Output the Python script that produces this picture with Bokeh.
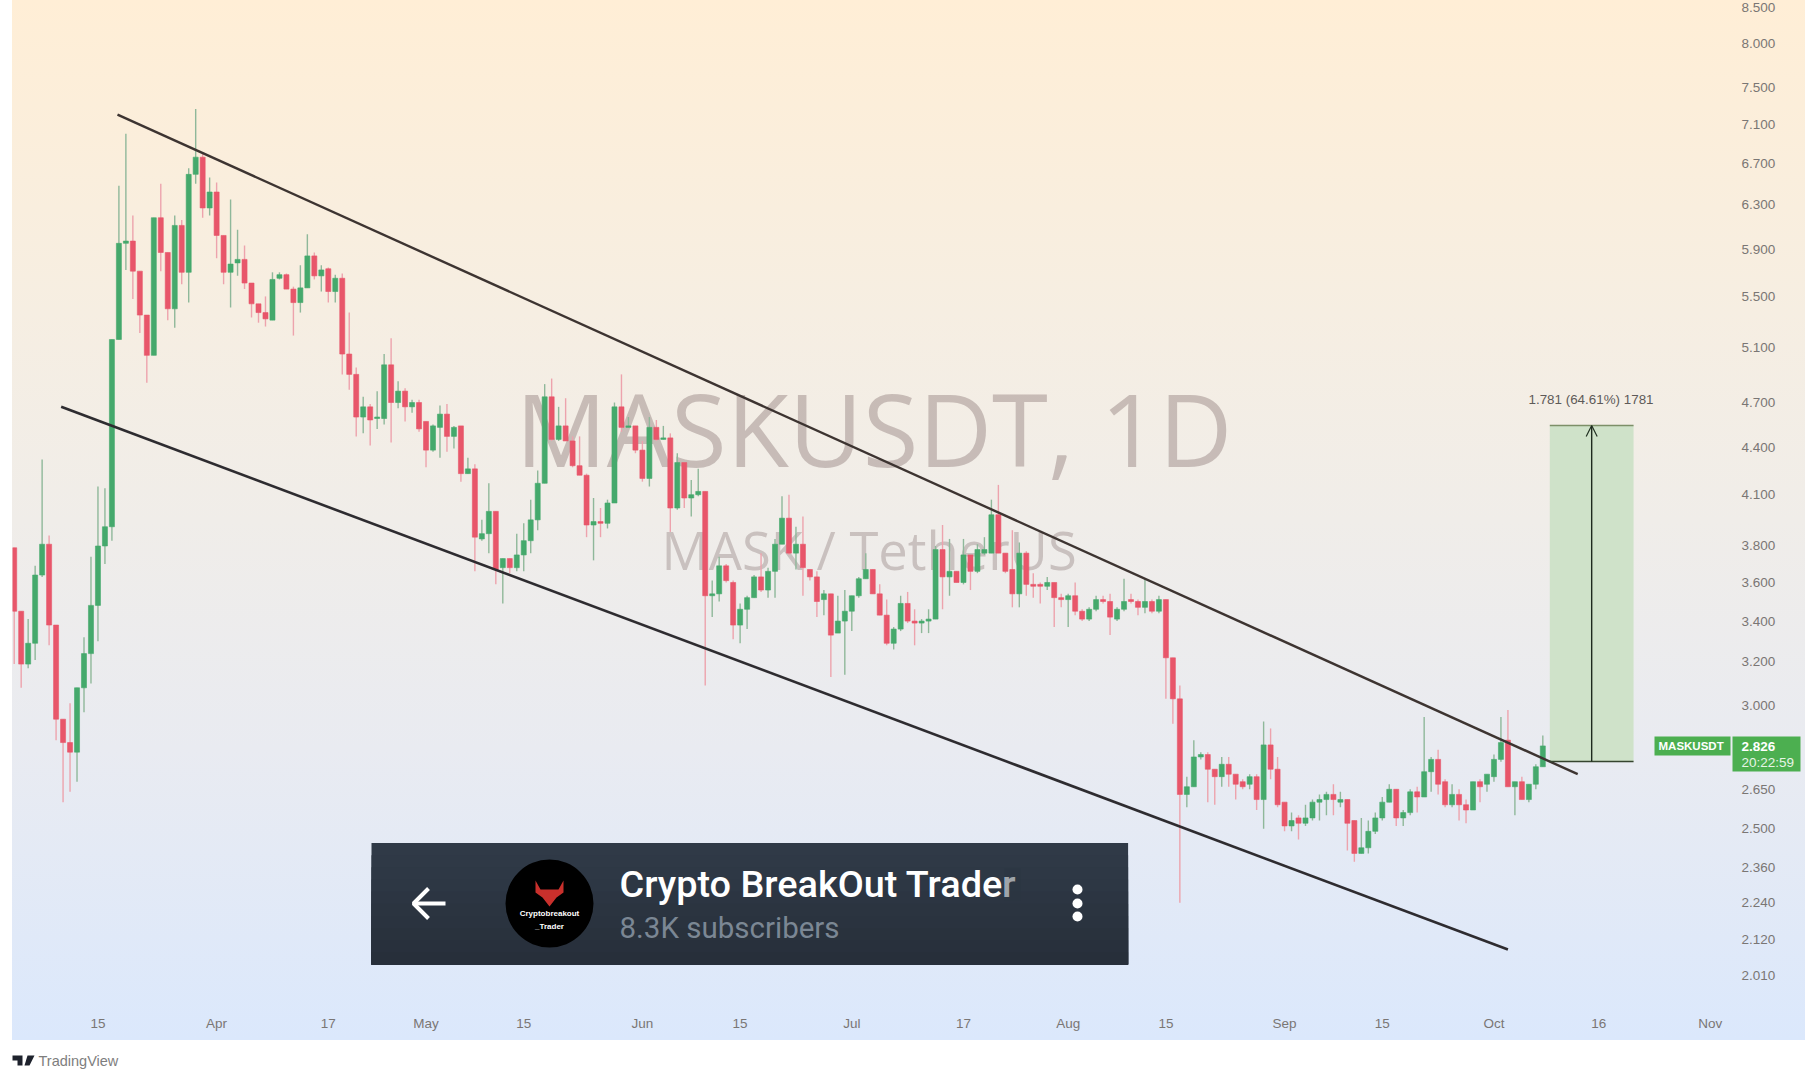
import math
from bokeh.plotting import figure
from bokeh.core.properties import value
from bokeh.models import Range1d, FixedTicker, PrintfTickFormatter, Arrow, OpenHead
from bokeh.embed import file_html
from bokeh.resources import INLINE

opens = [3.79,3.45,3.19,3.29,3.64,3.81,3.38,2.94,2.84,2.80,
3.08,3.24,3.48,3.80,3.91,5.16,5.95,5.97,5.71,5.35,
5.04,6.18,5.87,5.40,6.11,5.70,6.59,6.76,6.27,6.42,
6.02,5.70,5.78,5.81,5.61,5.44,5.37,5.31,5.65,5.68,
5.56,5.45,5.57,5.84,5.67,5.73,5.54,5.65,5.05,4.90,
4.60,4.67,4.59,4.59,4.97,4.70,4.78,4.67,4.70,4.57,
4.38,4.53,4.62,4.47,4.54,4.23,4.26,3.84,3.87,4.00,
3.68,3.73,3.68,3.75,3.83,3.95,4.17,4.74,4.45,4.54,
4.44,4.28,4.22,3.92,3.94,3.93,4.05,4.67,4.53,4.54,
4.38,4.20,4.53,4.45,4.46,4.02,4.30,4.08,4.10,4.12,
3.53,3.54,3.69,3.60,3.38,3.46,3.52,3.63,3.56,3.66,
3.81,3.96,3.76,3.81,3.67,3.63,3.51,3.54,3.34,3.40,
3.45,3.53,3.62,3.67,3.54,3.43,3.29,3.36,3.49,3.40,
3.39,3.40,3.41,3.78,3.63,3.66,3.60,3.75,3.66,3.76,
3.76,3.98,3.76,3.67,3.54,3.76,3.59,3.59,3.58,3.60,
3.52,3.51,3.53,3.45,3.41,3.46,3.51,3.50,3.41,3.46,
3.51,3.50,3.47,3.50,3.45,3.51,3.22,3.03,2.63,2.66,
2.78,2.79,2.73,2.70,2.75,2.71,2.68,2.67,2.70,2.61,
2.83,2.73,2.60,2.51,2.54,2.52,2.54,2.60,2.61,2.63,
2.60,2.61,2.53,2.41,2.43,2.49,2.54,2.60,2.65,2.54,
2.56,2.64,2.62,2.72,2.77,2.68,2.59,2.63,2.59,2.57,
2.68,2.67,2.70,2.77,2.85,2.66,2.68,2.61,2.67,2.74]

highs = [3.79,3.45,3.41,3.69,4.32,3.86,3.38,2.94,3.01,3.08,
3.32,3.74,4.15,4.14,5.16,6.48,7.00,6.20,5.71,5.35,
6.18,6.50,5.87,6.20,6.16,6.65,7.26,6.81,6.56,6.51,
6.02,6.35,6.07,5.93,5.61,5.44,5.50,5.70,5.70,5.69,
5.58,5.76,6.03,5.87,5.76,5.74,5.68,5.69,5.37,4.95,
4.74,4.69,4.78,5.05,5.17,4.85,4.80,4.72,4.72,4.57,
4.55,4.68,4.69,4.54,4.54,4.33,4.29,3.95,4.17,4.00,
3.73,3.73,3.87,3.93,4.07,4.25,4.83,4.87,4.67,4.73,
4.47,4.47,4.23,4.08,4.02,4.07,4.70,4.90,4.60,4.54,
4.44,4.60,4.58,4.54,4.49,4.36,4.30,4.19,4.26,4.12,
3.61,3.74,3.70,3.61,3.49,3.53,3.64,3.76,3.68,3.84,
4.09,4.10,3.91,3.97,3.67,3.66,3.56,3.54,3.53,3.56,
3.53,3.63,3.76,3.67,3.59,3.51,3.37,3.53,3.55,3.46,
3.41,3.46,3.80,3.92,3.84,3.66,3.84,3.75,3.81,3.85,
4.07,4.16,3.76,3.89,3.82,3.77,3.65,3.60,3.63,3.60,
3.54,3.54,3.60,3.46,3.47,3.53,3.53,3.54,3.47,3.62,
3.54,3.51,3.62,3.51,3.53,3.51,3.22,3.09,2.70,2.85,
2.80,2.80,2.73,2.78,2.78,2.71,2.69,2.71,2.71,2.93,
2.90,2.78,2.60,2.56,2.55,2.59,2.61,2.63,2.64,2.67,
2.64,2.61,2.53,2.54,2.53,2.56,2.62,2.67,2.65,2.57,
2.65,2.66,2.95,2.78,2.81,2.69,2.67,2.65,2.61,2.68,
2.69,2.71,2.79,2.95,2.98,2.68,2.70,2.67,2.75,2.87]

lows = [3.19,3.08,3.17,3.21,3.63,3.28,2.85,2.60,2.64,2.68,
2.97,3.10,3.30,3.70,3.83,5.16,5.72,5.48,5.21,4.84,
5.04,5.71,5.31,5.25,5.60,5.45,6.50,6.18,6.20,5.82,
5.60,5.41,5.67,5.56,5.33,5.29,5.26,5.31,5.64,5.56,
5.19,5.37,5.57,5.64,5.54,5.45,5.45,4.90,4.79,4.47,
4.49,4.41,4.52,4.55,4.43,4.66,4.57,4.63,4.50,4.27,
4.37,4.33,4.37,4.39,4.18,4.23,3.66,3.83,3.76,3.59,
3.49,3.65,3.66,3.66,3.76,3.89,4.17,4.44,4.44,4.44,
4.27,4.22,3.85,3.72,3.85,3.90,4.05,4.50,4.53,4.36,
4.18,4.15,4.44,4.45,3.88,4.01,4.02,3.97,4.09,3.09,
3.42,3.50,3.60,3.31,3.29,3.36,3.52,3.55,3.52,3.52,
3.81,3.75,3.67,3.53,3.61,3.42,3.43,3.13,3.34,3.14,
3.35,3.52,3.62,3.54,3.43,3.28,3.26,3.35,3.39,3.28,
3.34,3.34,3.41,3.46,3.53,3.60,3.59,3.56,3.65,3.75,
3.76,3.76,3.65,3.47,3.47,3.53,3.52,3.49,3.56,3.37,
3.47,3.37,3.43,3.40,3.40,3.45,3.49,3.33,3.40,3.45,
3.49,3.43,3.44,3.44,3.44,3.03,2.92,2.24,2.58,2.66,
2.77,2.60,2.59,2.66,2.66,2.61,2.65,2.65,2.57,2.50,
2.69,2.58,2.49,2.49,2.46,2.51,2.53,2.53,2.55,2.55,
2.58,2.42,2.38,2.41,2.41,2.48,2.53,2.60,2.51,2.51,
2.55,2.56,2.62,2.64,2.63,2.58,2.58,2.53,2.52,2.57,
2.60,2.64,2.68,2.76,2.66,2.55,2.61,2.60,2.65,2.74]

closes = [3.45,3.19,3.29,3.64,3.81,3.38,2.94,2.84,2.80,3.08,
3.24,3.48,3.80,3.91,5.16,5.95,5.97,5.71,5.35,5.04,
6.18,5.87,5.40,6.11,5.70,6.59,6.76,6.27,6.42,6.02,
5.70,5.77,5.81,5.61,5.44,5.37,5.32,5.64,5.68,5.56,
5.45,5.57,5.84,5.67,5.72,5.54,5.65,5.05,4.90,4.60,
4.67,4.58,4.60,4.97,4.70,4.78,4.67,4.70,4.52,4.38,
4.54,4.62,4.47,4.53,4.23,4.26,3.85,3.87,4.00,3.67,
3.73,3.68,3.75,3.83,3.95,4.17,4.74,4.45,4.54,4.44,
4.28,4.22,3.92,3.94,3.93,4.05,4.67,4.53,4.54,4.38,
4.20,4.53,4.45,4.46,4.02,4.30,4.08,4.10,4.12,3.53,
3.54,3.69,3.61,3.38,3.46,3.52,3.63,3.56,3.66,3.81,
3.96,3.76,3.81,3.68,3.63,3.50,3.54,3.33,3.40,3.45,
3.53,3.62,3.67,3.54,3.43,3.29,3.36,3.49,3.40,3.39,
3.40,3.41,3.78,3.63,3.66,3.60,3.75,3.66,3.78,3.78,
3.98,3.76,3.66,3.54,3.76,3.59,3.58,3.58,3.60,3.52,
3.51,3.53,3.45,3.41,3.46,3.51,3.50,3.42,3.46,3.50,
3.50,3.47,3.50,3.45,3.51,3.22,3.03,2.63,2.66,2.78,
2.79,2.73,2.70,2.75,2.71,2.67,2.66,2.70,2.61,2.83,
2.73,2.59,2.51,2.53,2.52,2.54,2.60,2.61,2.63,2.61,
2.61,2.52,2.41,2.43,2.49,2.54,2.60,2.65,2.54,2.56,
2.64,2.62,2.72,2.77,2.67,2.59,2.63,2.59,2.57,2.68,
2.66,2.71,2.77,2.84,2.66,2.68,2.61,2.67,2.74,2.826]

price_ticks = [2.01,2.12,2.24,2.36,2.5,2.65,3.0,3.2,3.4,3.6,3.8,4.1,4.4,4.7,5.1,5.5,5.9,6.3,6.7,7.1,7.5,8.0]
date_tick_days = [12,29,45,59,73,90,104,120,136,151,165,182,196,212,227,243]
date_tick_labels = ["15","Apr","17","May","15","Jun","15","Jul","17","Aug","15","Sep","15","Oct","16","Nov"]

upper_line_day = [14.8, 224.0]
upper_line_price = [7.20, 2.71]
lower_line_day = [6.73, 214.0]
lower_line_price = [4.67, 2.09]
target_low, target_high = 2.761, 4.542
target_day_start, target_day_end = 220.0, 232.0
target_day_mid = 226.0


def ix(px):
    return (px - 13.7) / 6.98


def pr(py):
    return 8.0 * math.exp(-(py - 43.0) / 675.0)


p = figure(width=1793, height=1072, margin=(0, 0, 0, 12), output_backend="svg", toolbar_location=None,
           y_axis_type="log", y_axis_location="right",
           x_range=Range1d(ix(12), ix(1737)), y_range=Range1d(pr(1006), pr(0)),
           min_border_left=0, min_border_right=68, min_border_top=0, min_border_bottom=66,
           background_fill_color=None, border_fill_color=None, outline_line_color=None)
p.styles = {"background": "linear-gradient(180deg,#ffeed6 0%,#f6eee2 30%,#f0ede9 50%,#e9ebf1 72%,#dbe8fc 100%) no-repeat",
            "background-size": "100% 1040px"}
p.grid.visible = False

for ax in (p.xaxis[0], p.yaxis[0]):
    ax.axis_line_color = None
    ax.major_tick_line_color = None
    ax.minor_tick_line_color = None
    ax.major_tick_out = 0
    ax.major_tick_in = 0
    ax.major_label_text_color = "#7a7674"
    ax.major_label_text_font = "Liberation Sans"
    ax.major_label_text_font_size = "13.5px"
p.xaxis[0].ticker = FixedTicker(ticks=date_tick_days)
p.xaxis[0].major_label_overrides = dict(zip(date_tick_days, date_tick_labels))
p.xaxis[0].major_label_standoff = 9
p.yaxis[0].ticker = FixedTicker(ticks=price_ticks, minor_ticks=[])
p.yaxis[0].formatter = PrintfTickFormatter(format="%.3f")
p.yaxis[0].major_label_standoff = 4

# watermarks
p.text([ix(515)], [pr(427)], text=["MASKUSDT, 1D"], text_font=value("Open Sans"), text_font_size="101.5px",
       text_color="#7a6464", text_alpha=0.36, text_baseline="middle", text_align="left")
p.text([ix(661)], [pr(549)], text=["MASK / TetherUS"], text_font=value("Open Sans"), text_font_size="52.5px",
       text_color="#7a6464", text_alpha=0.32, text_baseline="middle", text_align="left")

# target box
p.quad(left=[target_day_start], right=[target_day_end], bottom=[target_low], top=[target_high],
       fill_color="#cfe2c9", line_color=None)

# candles
days = list(range(len(opens)))
up = [c >= o for o, c in zip(opens, closes)]
body_col = ["#45a96c" if u else "#e8566a" for u in up]
wick_col = ["#8fb89a" if u else "#eda3ad" for u in up]
p.segment(days, highs, days, lows, line_color=wick_col, line_width=1.4)
p.vbar(x=days, width=0.72, top=[max(o, c) for o, c in zip(opens, closes)],
       bottom=[min(o, c) for o, c in zip(opens, closes)], fill_color=body_col, line_color=body_col, line_width=0.6)

# trend lines
p.line(upper_line_day, upper_line_price, line_color="#3d3431", line_width=2.4)
p.line(lower_line_day, lower_line_price, line_color="#2e2c30", line_width=2.6)

# target lines and arrow
p.line([target_day_start, target_day_end], [target_high, target_high], line_color="#7d8f68", line_width=1.5)
p.line([target_day_start, target_day_end], [target_low, target_low], line_color="#36452f", line_width=1.5)
p.add_layout(Arrow(end=OpenHead(size=11, line_width=1.2, line_color="#223022"), x_start=target_day_mid, y_start=target_low,
                   x_end=target_day_mid, y_end=target_high, line_color="#1e2a1e", line_width=1.4))
p.text([ix(1590.5)], [pr(399)], text=["1.781 (64.61%) 1781"], text_font=value("Liberation Sans"), text_font_size="13.4px",
       text_color="#5e5a58", text_align="center", text_baseline="middle")

# channel card, slightly lighter towards its top
card_shades = ["#303a47", "#2f3946", "#2e3845", "#2d3744", "#2c3542", "#2b3440", "#2a333f", "#29323d", "#28303c", "#272f3a"]
band = (964 - 842.5) / len(card_shades)
p.quad(left=[ix(371)] * len(card_shades), right=[ix(1127.6)] * len(card_shades),
       top=[pr(842.5 + k * band) for k in range(len(card_shades))],
       bottom=[pr(964)] * len(card_shades),
       fill_color=card_shades, line_color=None)
p.multi_line([[ix(445), ix(414)], [ix(428), ix(413), ix(428)]], [[pr(903), pr(903)], [pr(888), pr(903), pr(918)]],
             line_color="#ffffff", line_width=4)
p.scatter([ix(549)], [pr(903)], size=88, marker="circle", fill_color="#000000", line_color=None)
p.patch([ix(v) for v in (535, 540, 558, 563, 563, 556, 549, 542, 535)],
        [pr(v) for v in (880, 889, 889, 880, 892, 897, 906, 897, 892)], fill_color="#c9302c", line_color=None)
p.text([ix(549), ix(549)], [pr(913), pr(926)], text=["Cryptobreakout", "_Trader"], text_font=value("Liberation Sans"),
       text_font_style="bold", text_font_size="8px", text_color="#ffffff", text_align="center", text_baseline="middle")
p.text([ix(619)], [pr(883)], text=["Crypto BreakOut Trader"], text_font=value("Roboto Medium, Roboto"),
       text_font_size="37.8px", text_color="#ffffff", text_baseline="middle", text_align="left")
p.quad(left=[ix(1004)], right=[ix(1020)], top=[pr(868)], bottom=[pr(900)], fill_color="#2b3541", fill_alpha=0.45, line_color=None)
p.text([ix(619)], [pr(927)], text=["8.3K subscribers"], text_font=value("Roboto"), text_font_size="29.5px",
       text_color="#7b8794", text_baseline="middle", text_align="left")
p.scatter([ix(1077)] * 3, [pr(889), pr(903), pr(916)], size=10, marker="circle", fill_color="#ffffff", line_color=None)

# overlay figure in page pixels: the price tags and brand mark lie outside the main figure's frame
q = figure(width=1805, height=1072, output_backend="svg", toolbar_location=None, x_axis_location=None, y_axis_location=None,
           x_range=Range1d(0, 1805), y_range=Range1d(1072, 0), min_border=0,
           background_fill_color=None, border_fill_color=None, outline_line_color=None)
q.styles = {"position": "absolute", "top": "0", "left": "0", "pointer-events": "none"}
q.grid.visible = False
GREEN = "#4caf50"
q.quad(left=[1654, 1732], right=[1730, 1800], top=[736, 736], bottom=[755, 771], fill_color=GREEN, line_color=None)


def note(x, y, t, size, color, style="normal"):
    q.text([x], [y], text=[t], text_font=value("Liberation Sans"), text_font_style=style,
           text_font_size=size, text_color=color, text_baseline="middle", text_align="left")


note(1658, 745.5, "MASKUSDT", "11.5px", "#ffffff", "bold")
note(1741, 745.5, "2.826", "13.5px", "#ffffff", "bold")
note(1741, 762, "20:22:59", "13.5px", "#e6f4e6")
note(1741, 7, "8.500", "13.5px", "#7a7674")
q.patches([[12, 22, 22, 17, 17, 12], [27, 34, 29, 24]],
          [[1055, 1055, 1065, 1065, 1060, 1060], [1055, 1055, 1065, 1065]], fill_color="#1e222d", line_color=None)
note(38, 1060, "TradingView", "14.5px", "#7e7e7e")

open("out.html", "w").write(file_html([p, q], INLINE))
